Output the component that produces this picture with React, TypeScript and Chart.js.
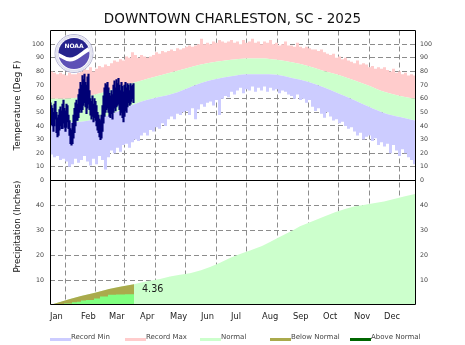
import React, { useEffect, useRef } from 'react';
import { Chart, registerables } from 'chart.js';

Chart.register(...registerables);

// ---------------- data ----------------
const TITLE = 'DOWNTOWN CHARLESTON, SC - 2025';
const MONTHS = ['Jan', 'Feb', 'Mar', 'Apr', 'May', 'Jun', 'Jul', 'Aug', 'Sep', 'Oct', 'Nov', 'Dec'];
const MONTH_START_DAYS = [0, 31, 59, 90, 120, 151, 181, 212, 243, 273, 304, 334];
const YEAR_DAYS = 365;

// record values, one value per 3-day block (days 0-2, 3-5, ...)
const RECORD_STEP_DAYS = 3;
const RECORD_MAX = [
  80, 79, 78, 79, 78, 77, 79, 78, 78, 79, 80,
  82, 81, 83, 80, 82, 84, 83, 85, 84,
  86, 88, 87, 89, 88, 91, 90, 94, 92, 90,
  92, 91, 90, 91, 92, 94, 93, 95, 94, 95,
  96, 95, 97, 96, 97, 98, 99, 98, 99, 100,
  104, 100, 101, 100, 102, 101, 103, 102, 101, 102,
  103, 101, 102, 100, 103, 101, 102, 104, 101, 102,
  100, 102, 101, 103, 100, 101, 99, 100, 102, 99,
  99, 98, 101, 98, 97, 98, 97, 96, 96, 95,
  96, 94, 93, 92, 93, 90, 91, 89, 90, 88,
  87, 86, 88, 85, 86, 85, 83, 84, 82, 83,
  82, 83, 81, 80, 82, 79, 80, 78, 79, 77,
  78, 77,
];
const RECORD_MIN = [
  19, 17, 18, 15, 16, 14, 10, 12, 16, 13, 15,
  18, 14, 11, 16, 12, 18, 15, 8, 17,
  22, 20, 24, 21, 26, 27, 24, 28, 30, 29,
  33, 35, 33, 37, 36, 39, 38, 42, 40, 45,
  47, 45, 49, 48, 50, 51, 48, 53, 45, 52,
  56, 54, 57, 58, 55, 59, 48, 60, 62, 61,
  65, 63, 66, 68, 64, 67, 66, 69, 65, 68,
  66, 69, 65, 68, 66, 67, 64, 66, 65, 63,
  62, 60, 63, 59, 60, 57, 59, 54, 51, 53,
  49, 46, 50, 47, 44, 45, 42, 43, 40, 38,
  39, 36, 33, 35, 30, 32, 33, 29, 31, 26,
  28, 25, 27, 20, 26, 22, 18, 23, 20, 17,
  15, 12,
];

// normal highs / lows
const NORMAL_DAYS = [0, 15, 31, 45, 59, 75, 90, 105, 120, 135, 151, 166, 181, 196, 212, 227, 243, 258, 273, 288, 304, 319, 334, 350, 365];
const NORMAL_MAX = [60, 60, 61, 63, 66, 70, 73, 76, 79, 82, 85, 87, 88.5, 89.5, 89.5, 88.5, 86.5, 84, 80.5, 77.5, 73.5, 69.5, 65, 62, 60];
const NORMAL_MIN = [43, 42.5, 43, 45, 48, 53, 57.5, 60.5, 63, 67, 71.5, 74.5, 76.5, 78, 78, 77.5, 75, 72.5, 68.5, 64, 59, 54, 49.5, 46.5, 44];

// observed daily highs / lows (Jan 1 .. Mar 25)
const OBS_HIGH = [
  57, 55, 53, 50, 56, 58, 50, 46, 48, 52, 54, 51, 56, 59, 53, 51, 56, 55, 48, 44,
  38, 37, 42, 48, 53, 57, 59, 56, 63, 67, 72, 70, 77, 74, 78, 72, 70, 76, 78, 66,
  60, 58, 62, 56, 60, 58, 55, 50, 48, 45, 44, 48, 55, 62, 68, 71, 70, 72, 68, 64,
  62, 66, 63, 70, 73, 68, 74, 71, 75, 70, 66, 72, 69, 65, 70, 72, 68, 71, 70, 66,
  71, 69, 70, 71,
];
const OBS_LOW = [
  44, 41, 40, 36, 40, 45, 35, 32, 33, 37, 40, 38, 38, 42, 39, 36, 39, 43, 38, 33,
  27, 26, 27, 31, 35, 40, 44, 44, 46, 50, 52, 50, 52, 55, 57, 54, 49, 53, 56, 52,
  48, 45, 47, 43, 46, 44, 40, 37, 35, 32, 30, 31, 36, 42, 47, 50, 52, 53, 50, 47,
  46, 49, 45, 50, 53, 51, 54, 55, 56, 52, 48, 50, 46, 43, 47, 51, 50, 54, 57, 55,
  56, 58, 60, 57,
];

// cumulative precipitation (inches)
const NORMAL_PRECIP_DAYS = [0, 10, 20, 31, 45, 59, 70, 84, 90, 100, 110, 120, 130, 140, 151, 160, 170, 181, 190, 200, 212, 220, 230, 243, 250, 260, 273, 285, 295, 304, 315, 325, 334, 345, 355, 365];
const NORMAL_PRECIP = [0, 1.2, 2.4, 3.6, 4.9, 6.4, 7.3, 8.3, 8.9, 9.7, 10.4, 11.4, 12.1, 12.8, 14.0, 15.3, 17.0, 19.1, 20.5, 21.9, 23.7, 25.3, 27.4, 30.0, 31.6, 33.2, 35.3, 37.2, 38.6, 39.6, 40.3, 41.0, 41.6, 42.7, 43.7, 44.6];
const OBS_PRECIP_DAYS = [0, 4, 9, 14, 22, 27, 31, 36, 44, 50, 58, 66, 75, 84];
const OBS_PRECIP = [0, 0.15, 0.35, 0.6, 1.1, 1.3, 1.8, 2.0, 2.6, 3.4, 4.1, 4.2, 4.36, 4.36];

const LEGEND_LABELS = ['Record Min', 'Record Max', 'Normal', 'Below Normal', 'Above Normal'];

// ---------------- styles ----------------
const FONT = 'DejaVu Sans';
const C_RECMIN = '#ccccff';
const C_RECMAX = '#ffcccc';
const C_NORMAL = '#ccffcc';
const C_BELOW = '#aaaa4c';
const C_ABOVE = '#006600';
const C_OBS_PRECIP = '#80ff80';
const C_OBS_TEMP = '#000075';
const C_GRID = '#8c8c8c';
const LEGEND_COLORS = [C_RECMIN, C_RECMAX, C_NORMAL, C_BELOW, C_ABOVE];
const LEGEND_OFFSETS = [0, 75, 150, 220, 300];

function drawLogo(ctx: CanvasRenderingContext2D, cx: number, cy: number) {
  ctx.save();
  ctx.beginPath();
  ctx.arc(cx, cy, 19, 0, Math.PI * 2);
  ctx.fillStyle = '#ffffff';
  ctx.fill();
  ctx.lineWidth = 1;
  ctx.strokeStyle = '#b4b4d4';
  ctx.stroke();
  ctx.beginPath();
  ctx.arc(cx, cy, 17.3, 0, Math.PI * 2);
  ctx.lineWidth = 2;
  ctx.strokeStyle = '#e2e2f0';
  ctx.stroke();

  ctx.save();
  ctx.beginPath();
  ctx.arc(cx, cy, 15.5, 0, Math.PI * 2);
  ctx.clip();
  ctx.fillStyle = '#5e50b6';
  ctx.fillRect(cx - 17, cy - 17, 34, 34);
  // white gull band
  ctx.beginPath();
  ctx.moveTo(cx - 17, cy - 17);
  ctx.lineTo(cx + 17, cy - 17);
  ctx.lineTo(cx + 17, cy - 3);
  ctx.bezierCurveTo(cx + 9, cy + 1, cx + 3, cy + 8, cx - 4, cy + 8);
  ctx.bezierCurveTo(cx - 9, cy + 8, cx - 13, cy + 4, cx - 17, cy + 3);
  ctx.closePath();
  ctx.fillStyle = '#ffffff';
  ctx.fill();
  // dark top
  ctx.beginPath();
  ctx.moveTo(cx - 17, cy - 17);
  ctx.lineTo(cx + 17, cy - 17);
  ctx.lineTo(cx + 17, cy - 8);
  ctx.bezierCurveTo(cx + 9, cy - 4, cx + 3, cy + 4, cx - 4, cy + 4);
  ctx.bezierCurveTo(cx - 9, cy + 4, cx - 13, cy, cx - 17, cy - 1);
  ctx.closePath();
  ctx.fillStyle = '#25228c';
  ctx.fill();
  ctx.restore();

  ctx.fillStyle = '#ffffff';
  ctx.font = `bold 6px "${FONT}"`;
  ctx.textAlign = 'center';
  ctx.textBaseline = 'middle';
  ctx.fillText('NOAA', cx, cy - 7);
  ctx.restore();
}

const decorPlugin = {
  id: 'decor',
  afterDraw(chart: any) {
    const { ctx, chartArea: a, scales } = chart;
    ctx.save();
    drawLogo(ctx, a.left + 24, a.top + 23);

    // frame and panel separator
    const L = Math.floor(a.left) + 0.5;
    const R = Math.floor(a.right) + 0.5;
    const T = Math.floor(a.top) + 0.5;
    const B = Math.floor(a.bottom) - 0.5;
    const S = Math.floor(scales.yT.getPixelForValue(0)) + 0.5;
    ctx.strokeStyle = '#000';
    ctx.lineWidth = 1;
    ctx.setLineDash([]);
    ctx.beginPath();
    ctx.rect(L, T, R - L, B - T);
    ctx.moveTo(L, S);
    ctx.lineTo(R, S);
    ctx.stroke();

    // last observed cumulative precipitation
    const lastDay = OBS_PRECIP_DAYS[OBS_PRECIP_DAYS.length - 1];
    const lastVal = OBS_PRECIP[OBS_PRECIP.length - 1];
    ctx.fillStyle = '#1a1a1a';
    ctx.font = `9.6px "${FONT}"`;
    ctx.textAlign = 'left';
    ctx.textBaseline = 'alphabetic';
    ctx.fillText(lastVal.toFixed(2), scales.x.getPixelForValue(lastDay) + 8, scales.yP.getPixelForValue(lastVal) - 2.5);

    // legend
    ctx.font = `7px "${FONT}"`;
    ctx.textBaseline = 'middle';
    LEGEND_LABELS.forEach((label, i) => {
      const x = a.left + LEGEND_OFFSETS[i];
      ctx.fillStyle = LEGEND_COLORS[i];
      ctx.fillRect(x, chart.height - 7, 21, 3);
      ctx.fillStyle = '#444';
      ctx.fillText(label, x + 21, chart.height - 8);
    });
    ctx.restore();
  },
};

export default function App() {
  const ref = useRef<HTMLCanvasElement>(null);

  useEffect(() => {
    document.body.style.margin = '0';
    const canvas = ref.current;
    if (!canvas) return;

    const stepPoints = (vals: number[]) => {
      const pts = vals.map((v, i) => ({ x: i * RECORD_STEP_DAYS, y: v }));
      pts.push({ x: YEAR_DAYS, y: vals[vals.length - 1] });
      return pts;
    };
    const recMinPts = stepPoints(RECORD_MIN);
    const recMaxPts = stepPoints(RECORD_MAX);
    const normMinPts = NORMAL_DAYS.map((d, i) => ({ x: d, y: NORMAL_MIN[i] }));
    const normMaxPts = NORMAL_DAYS.map((d, i) => ({ x: d, y: NORMAL_MAX[i] }));
    const obsBars = OBS_HIGH.map((h, i) => ({ x: i + 0.5, y: [OBS_LOW[i], h] }));
    const normPPts = NORMAL_PRECIP_DAYS.map((d, i) => ({ x: d, y: NORMAL_PRECIP[i] }));
    const lastObsDay = OBS_PRECIP_DAYS[OBS_PRECIP_DAYS.length - 1];
    const belowPts = normPPts.filter((p) => p.x <= lastObsDay);
    const obsPPts = OBS_PRECIP_DAYS.map((d, i) => ({ x: d, y: OBS_PRECIP[i] }));

    const area = (extra: any) => ({
      type: 'line',
      pointRadius: 0,
      borderWidth: 0,
      borderColor: 'rgba(0,0,0,0)',
      tension: 0,
      ...extra,
    });

    const tickFont = { family: FONT, size: 6.3 };
    const yGrid = (hidden: number[]) => ({
      drawTicks: false,
      lineWidth: 1,
      color: (c: any) => (c.tick && hidden.includes(c.tick.value) ? 'rgba(0,0,0,0)' : C_GRID),
    });
    const yTicks = (hidden: (v: number) => boolean, padding: number) => ({
      stepSize: 10,
      autoSkip: false,
      padding,
      color: '#444',
      font: tickFont,
      callback: (v: any) => (hidden(Number(v)) ? '' : v),
    });
    const hideTemp = (v: number) => v > 100;
    const hidePrecip = (v: number) => v === 0 || v === 50;

    const chart = new Chart(canvas, {
      type: 'line',
      data: {
        datasets: [
          area({ label: 'Record Min', data: recMinPts, yAxisID: 'yT', stepped: true, fill: false, order: 10 }),
          area({ label: 'Normal Min', data: normMinPts, yAxisID: 'yT', cubicInterpolationMode: 'monotone', fill: { target: 0 }, backgroundColor: C_RECMIN, order: 10 }),
          area({ label: 'Normal Max', data: normMaxPts, yAxisID: 'yT', cubicInterpolationMode: 'monotone', fill: { target: 1 }, backgroundColor: C_NORMAL, order: 10 }),
          area({ label: 'Record Max', data: recMaxPts, yAxisID: 'yT', stepped: true, fill: { target: 2 }, backgroundColor: C_RECMAX, order: 10 }),
          {
            type: 'bar',
            label: 'Observed',
            data: obsBars,
            yAxisID: 'yT',
            backgroundColor: C_OBS_TEMP,
            borderWidth: 0,
            barThickness: 1.5,
            order: 0,
          },
          area({ label: 'Normal Precip', data: normPPts, yAxisID: 'yP', fill: 'origin', backgroundColor: C_NORMAL, order: 12 }),
          area({ label: 'Below Normal', data: belowPts, yAxisID: 'yP', fill: 'origin', backgroundColor: C_BELOW, order: 11 }),
          area({ label: 'Observed Precip', data: obsPPts, yAxisID: 'yP', stepped: true, fill: 'origin', backgroundColor: C_OBS_PRECIP, order: 9 }),
        ] as any,
      },
      options: {
        animation: false,
        responsive: false,
        maintainAspectRatio: false,
        devicePixelRatio: 1,
        events: [],
        layout: { padding: { bottom: 20 } },
        plugins: {
          legend: { display: false },
          tooltip: { enabled: false },
          title: {
            display: true,
            text: TITLE,
            color: '#111',
            font: { family: FONT, size: 13.5, weight: 'normal' },
            padding: { top: 11, bottom: 3.3 },
          },
        },
        scales: {
          x: {
            type: 'linear',
            position: 'bottom',
            min: 0,
            max: YEAR_DAYS,
            offset: false,
            z: 1,
            afterBuildTicks: (s: any) => {
              s.ticks = MONTH_START_DAYS.map((v) => ({ value: v }));
            },
            afterFit: (s: any) => {
              s.height = 20;
            },
            grid: {
              drawTicks: false,
              lineWidth: 1,
              color: (c: any) => (c.tick && c.tick.value === 0 ? 'rgba(0,0,0,0)' : C_GRID),
            },
            border: { display: false, dash: [5, 3] },
            ticks: {
              autoSkip: false,
              align: 'start',
              maxRotation: 0,
              padding: 7,
              color: '#222',
              font: { family: FONT, size: 8.3 },
              callback: (v: any) => {
                const i = MONTH_START_DAYS.indexOf(Number(v));
                return i >= 0 ? MONTHS[i] : '';
              },
            },
          },
          yP: {
            type: 'linear',
            position: 'left',
            stack: 'left',
            stackWeight: 124.5,
            min: 0,
            max: 50,
            z: 1,
            afterFit: (s: any) => {
              s.width = 50;
            },
            grid: yGrid([0, 50]),
            border: { display: false, dash: [5, 3] },
            ticks: yTicks(hidePrecip, 6),
            title: {
              display: true,
              text: 'Precipitation (Inches)',
              align: 'end',
              color: '#111',
              font: { family: FONT, size: 8.7 },
              padding: { top: 13, bottom: 0 },
            },
          },
          yT: {
            type: 'linear',
            position: 'left',
            stack: 'left',
            stackWeight: 150,
            min: 0,
            max: 110,
            z: 1,
            afterFit: (s: any) => {
              s.width = 50;
            },
            grid: yGrid([0, 110]),
            border: { display: false, dash: [5, 3] },
            ticks: yTicks(hideTemp, 6),
            title: {
              display: true,
              text: 'Temperature (Deg F)',
              color: '#111',
              font: { family: FONT, size: 8.7 },
              padding: { top: 13, bottom: 0 },
            },
          },
          yT2: {
            type: 'linear',
            position: 'right',
            stack: 'right',
            stackWeight: 150,
            min: 0,
            max: 110,
            z: 1,
            afterFit: (s: any) => {
              s.width = 50;
            },
            grid: { display: false, drawTicks: false },
            border: { display: false },
            ticks: yTicks(hideTemp, 5),
          },
          yP2: {
            type: 'linear',
            position: 'right',
            stack: 'right',
            stackWeight: 124.5,
            min: 0,
            max: 50,
            z: 1,
            afterFit: (s: any) => {
              s.width = 50;
            },
            grid: { display: false, drawTicks: false },
            border: { display: false },
            ticks: yTicks(hidePrecip, 5),
          },
        } as any,
      } as any,
      plugins: [decorPlugin],
    });

    return () => chart.destroy();
  }, []);

  return <canvas ref={ref} width={465} height={345} style={{ display: 'block', width: 465, height: 345 }} />;
}
